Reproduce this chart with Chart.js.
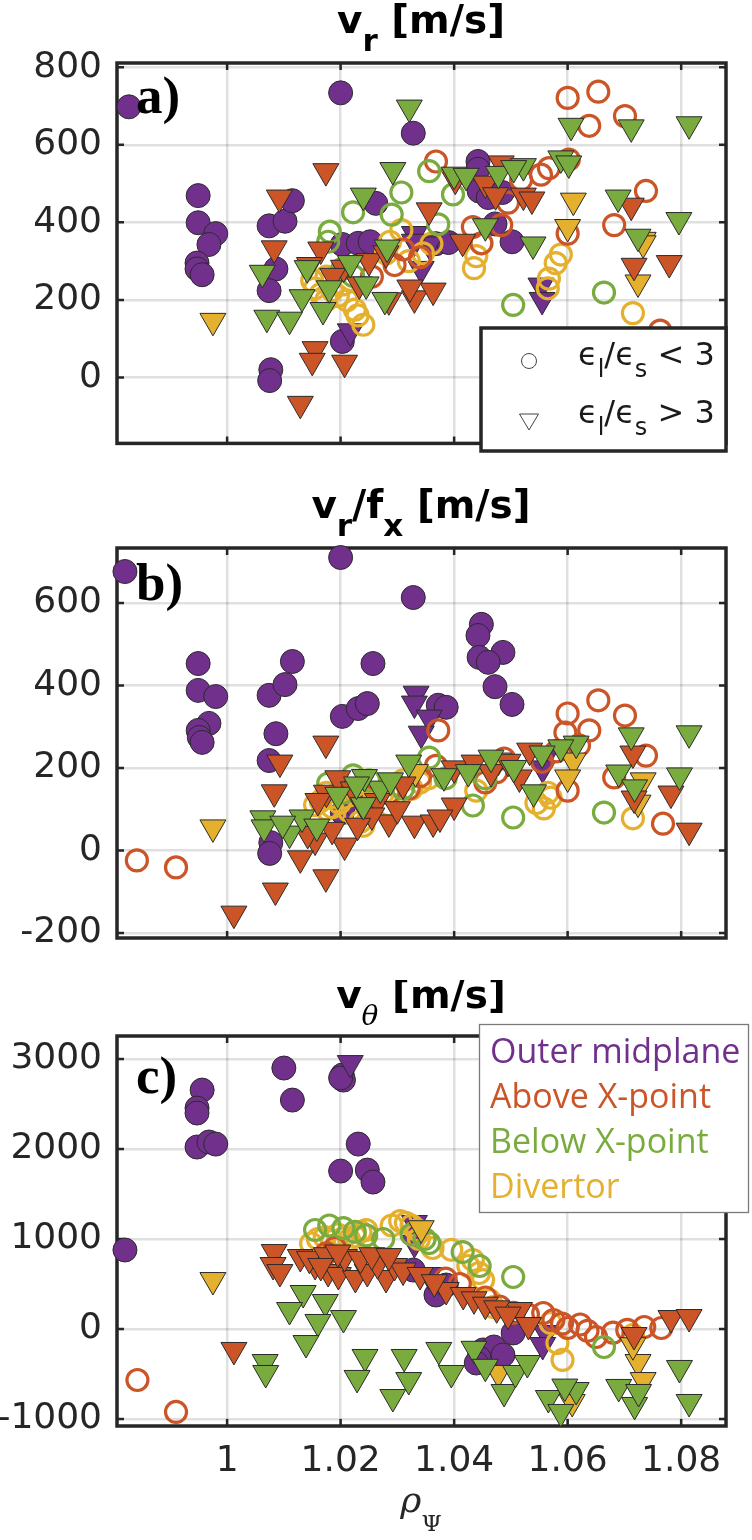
<!DOCTYPE html>
<html>
<head>
<meta charset="utf-8">
<script src="https://cdn.jsdelivr.net/npm/chart.js@4.4.0/dist/chart.umd.min.js"></script>
<style>
body { margin: 0; background: #fff; width: 752px; height: 1540px; position: relative; overflow: hidden; }
canvas { position: absolute; left: 0; }
</style>
</head>
<body>
<canvas id="ca" width="752" height="480" style="top:0px"></canvas>
<canvas id="cb" width="752" height="500" style="top:480px"></canvas>
<canvas id="cc" width="752" height="560" style="top:980px"></canvas>
<script>
// tick labels
const rhoTicks = [1, 1.02, 1.04, 1.06, 1.08];
const vrTicks = [0, 200, 400, 600, 800];
const vrfTicks = [-200, 0, 200, 400, 600];
const vthTicks = [-1000, 0, 1000, 2000, 3000];
const regions = ['Outer midplane', 'Above X-point', 'Below X-point', 'Divertor'];

// a) v_r  -- [rho, value]
const aMidCirc = [[0.9827,698],[1.020,734],[0.9949,469],[0.9949,399],[0.998,371],[0.9968,343],[0.9947,295],[0.9947,280],[0.9956,265],
  [1.0074,391],[1.0102,403],[1.0115,456],[1.0086,280],[1.0074,224],[1.0077,20],[1.0075,-8],[1.0203,93],[1.0203,343],[1.0231,346],
  [1.0252,350],[1.0262,449],[1.0328,630],[1.0442,557],[1.0442,537],[1.0444,481],[1.046,464],[1.0485,477],[1.0472,396],[1.0502,350],
  [1.0368,345],[1.039,348]];
const aMidTri = [[1.0217,119],[1.033,370],[1.0356,343],[1.033,350],[1.0342,280],[1.0553,237],[1.0555,200]];
const aAbvCirc = [[1.060,721],[1.0654,737],[1.0638,649],[1.0701,674],[1.0368,557],[1.0738,481],[1.0682,393],[1.060,371],[1.0602,562],
  [1.0567,540],[1.0553,523],[1.0518,510],[1.0763,121],[1.0495,451],[1.0433,388],[1.0483,393],[1.0448,346],[1.031,330],[1.034,310],
  [1.0295,290],[1.0255,260]];
const aAbvTri = [[1.0174,532],[1.0092,464],[1.0083,333],[1.0207,38],[1.0155,73],[1.0150,43],[1.0129,-68],[1.0402,510],[1.0483,552],
  [1.0356,431],[1.0522,469],[1.0537,459],[1.0712,443],[1.0779,295],[1.0717,288],[1.0285,199],[1.033,204],[1.0363,224],[1.0322,232],
  [1.025,300],[1.0233,240],[1.0205,283],[1.0165,330],[1.028,320],[1.0415,350],[1.0455,500],[1.0473,470],[1.0145,290],[1.0186,262]];
const aBelCirc = [[1.0356,532],[1.0307,477],[1.0398,472],[1.0222,426],[1.0181,376],[1.0504,187],[1.0664,219],[1.0178,350],[1.0222,262],
  [1.0203,280],[1.029,420],[1.0372,395]];
const aBelTri = [[1.0321,696],[1.0292,535],[1.0606,649],[1.0712,645],[1.0814,653],[1.0588,565],[1.0602,552],[1.0522,545],[1.0689,464],
  [1.0796,406],[1.0724,363],[1.0539,343],[1.024,469],[1.007,154],[1.011,149],[1.0062,270],[1.0132,207],[1.0169,174],[1.0141,282],
  [1.0217,295],[1.0282,335],[1.040,523],[1.0421,520],[1.0455,390],[1.0478,525],[1.0505,540],[1.0278,200],[1.0245,240],[1.018,230]];
const aDivCirc = [[1.0155,230],[1.0165,215],[1.0175,200],[1.0185,225],[1.0195,210],[1.0205,240],[1.0211,199],[1.0225,175],[1.024,136],
  [1.023,160],[1.015,250],[1.0175,260],[1.028,320],[1.0307,380],[1.0287,350],[1.032,300],[1.0345,320],[1.036,345],[1.0435,282],
  [1.0439,313],[1.0448,346],[1.0588,317],[1.0579,295],[1.0567,255],[1.0715,166],[1.0565,230]];
const aDivTri = [[0.9975,146],[1.061,456],[1.060,388],[1.0733,355],[1.0733,346],[1.0724,245]];

// b) v_r/f_x
const bMidCirc = [[0.982,676],[1.020,710],[0.9949,453],[0.9949,388],[0.998,373],[0.9968,308],[0.9949,291],[0.9951,274],[0.9956,262],
  [1.0074,376],[1.0102,402],[1.0115,458],[1.0086,283],[1.0074,218],[1.0077,19],[1.0075,-7],[1.0203,92],[1.0203,325],[1.0231,344],
  [1.0247,356],[1.0257,453],[1.0328,613],[1.0448,548],[1.0442,521],[1.0486,480],[1.0444,468],[1.046,456],[1.0472,397],[1.0502,354],
  [1.0372,352],[1.0386,347]];
const bMidTri = [[1.0333,380],[1.033,356],[1.0356,322],[1.0342,283],[1.0217,116],[1.0562,230],[1.0556,199]];
const bAbvCirc = [[0.9841,-24],[0.991,-41],[1.0654,364],[1.060,332],[1.0701,327],[1.0638,291],[1.0596,286],[1.0682,177],[1.0738,230],
  [1.0768,65],[1.060,145],[1.0488,223],[1.0475,190],[1.0455,165],[1.058,240],[1.0555,215],[1.062,255],[1.0372,291],[1.0368,205],
  [1.034,180],[1.032,150],[1.0285,140],[1.0245,130]];
const bAbvTri = [[1.0174,259],[1.0093,213],[1.0083,141],[1.0207,12],[1.0155,24],[1.0129,-19],[1.0174,-65],[1.0085,-97],[1.0012,-153],
  [1.0285,68],[1.033,65],[1.0363,68],[1.040,109],[1.040,199],[1.0435,213],[1.0515,177],[1.0533,242],[1.0715,235],[1.0782,138],
  [1.0814,48],[1.0717,126],[1.0175,140],[1.0195,175],[1.0222,148],[1.0245,95],[1.0265,120],[1.030,100],[1.031,160],[1.0255,85],
  [1.016,120],[1.0465,190],[1.0495,215],[1.0375,80],[1.0185,50],[1.023,60],[1.0142,40]];
const bBelCirc = [[1.0178,162],[1.0222,182],[1.025,170],[1.0504,80],[1.0664,92],[1.0356,225],[1.0433,109],[1.0295,130],[1.031,150],
  [1.0205,140],[1.0385,175],[1.0455,175]];
const bBelTri = [[1.0063,78],[1.0065,56],[1.011,41],[1.0132,80],[1.032,213],[1.054,141],[1.0615,259],[1.0712,279],[1.069,189],
  [1.0797,182],[1.0814,284],[1.0718,153],[1.0588,250],[1.0098,65],[1.0158,58],[1.0195,135],[1.024,110],[1.027,150],[1.0288,170],
  [1.0382,180],[1.0425,190],[1.0465,225],[1.0505,200],[1.0555,235],[1.0242,178],[1.0228,160]];
const bDivCirc = [[1.0155,110],[1.0165,120],[1.0175,100],[1.0185,105],[1.0198,115],[1.0205,128],[1.0215,95],[1.0225,85],[1.0235,70],
  [1.024,60],[1.019,130],[1.0175,140],[1.0245,115],[1.026,130],[1.0275,140],[1.0295,160],[1.031,170],[1.0325,150],[1.034,165],
  [1.0355,175],[1.0285,110],[1.0439,145],[1.057,128],[1.0558,102],[1.0545,115],[1.0565,140],[1.0715,78]];
const bDivTri = [[0.9975,56],[1.0478,218],[1.061,218],[1.060,177],[1.0733,170],[1.0724,116],[1.0332,190]];

// c) v_theta
const cMidCirc = [[0.982,878],[0.9956,2655],[0.9947,2455],[0.9947,2400],[0.9947,2022],[0.9968,2078],[0.998,2055],[1.010,2900],
  [1.0115,2544],[1.0203,2822],[1.0205,2766],[1.0231,2055],[1.020,1755],[1.0247,1766],[1.0257,1633],[1.0328,655],[1.0368,378],
  [1.0386,489],[1.0504,-44],[1.0451,-233],[1.047,-200],[1.0486,-289],[1.0444,-322],[1.0439,-378],[1.020,2790]];
const cMidTri = [[1.0217,2955],[1.033,1178],[1.0335,1066],[1.033,955],[1.0356,600],[1.0562,-44],[1.0556,-178]];
const cAbvCirc = [[0.9842,-567],[0.991,-922],[1.0455,350],[1.048,250],[1.0505,180],[1.053,160],[1.0557,178],[1.0575,100],[1.060,11],
  [1.0622,50],[1.065,-89],[1.068,-40],[1.0705,-10],[1.0735,22],[1.0765,11],[1.059,60],[1.0635,-20],[1.041,500],[1.0385,560],
  [1.0175,840],[1.019,900]];
const cAbvTri = [[1.0012,-233],[1.0083,855],[1.0081,711],[1.0093,633],[1.0129,800],[1.0155,711],[1.0178,633],[1.0196,600],[1.0226,567],
  [1.0207,800],[1.0247,633],[1.028,567],[1.0386,433],[1.0416,378],[1.0435,330],[1.0515,211],[1.0531,44],[1.0717,-67],[1.0782,122],
  [1.0814,133],[1.0145,780],[1.0175,820],[1.0235,780],[1.0265,720],[1.0295,700],[1.031,650],[1.034,600],[1.0365,520],[1.0455,270],
  [1.0475,230],[1.0495,160],[1.0195,850],[1.0165,700],[1.0255,820],[1.0285,810]];
const cBelCirc = [[1.0155,1100],[1.018,1150],[1.0205,1120],[1.0225,1080],[1.0245,1040],[1.0275,1000],[1.0504,578],[1.0664,-200],
  [1.0415,855],[1.0356,955],[1.0348,1000],[1.0325,1050],[1.0445,700]];
const cBelTri = [[1.0134,400],[1.0173,300],[1.011,211],[1.016,78],[1.0205,122],[1.0139,-156],[1.0067,-367],[1.0068,-489],[1.0243,-311],
  [1.0229,-544],[1.0312,-311],[1.032,-567],[1.0292,-756],[1.0373,-233],[1.0395,-489],[1.0488,-700],[1.0508,-489],[1.0529,-378],
  [1.0566,-767],[1.0588,-922],[1.0615,-678],[1.069,-644],[1.0718,-844],[1.0797,-433],[1.0814,-811],[1.0435,-220],[1.0455,-420],
  [1.0595,-640],[1.0725,-700]];
const cDivCirc = [[1.0148,950],[1.016,1000],[1.0172,1020],[1.0185,980],[1.0195,1050],[1.0205,1010],[1.0215,990],[1.0225,1030],
  [1.0235,1080],[1.0245,1100],[1.029,1150],[1.0305,1200],[1.0315,1180],[1.0325,1150],[1.0335,1100],[1.0338,1000],[1.0362,900],
  [1.0433,767],[1.0444,622],[1.0451,544],[1.0462,322],[1.0469,244],[1.057,67],[1.0582,-156],[1.0591,-344],[1.0715,-67],[1.0395,880],
  [1.0425,700]];
const cDivTri = [[0.9975,544],[1.060,-678],[1.0608,-811],[1.0724,-367],[1.0733,-567],[1.0478,-489],[1.0342,1120],[1.0715,-180]];

const colors = ['#70308C', '#CC5528', '#7AAB3E', '#E4B02E'];
const ink = '#262626';
const tickFont = 'DejaVu Sans';

function pts(arr) { return arr.map(p => ({ x: p[0], y: p[1] })); }

function series(arr, color, tri, ring) {
  return {
    data: pts(arr),
    pointStyle: tri ? 'triangle' : 'circle',
    pointRotation: tri ? 180 : 0,
    pointRadius: tri ? 15 : (ring ? 10.5 : 12),
    pointHoverRadius: tri ? 15 : 12,
    pointBackgroundColor: ring ? 'rgba(0,0,0,0)' : color,
    pointBorderColor: ring ? color : '#2b2b2b',
    pointBorderWidth: ring ? 3.2 : 1,
    showLine: false,
    clip: false
  };
}

function richText(ctx, parts, cx, y) {
  let w = 0;
  parts.forEach(p => { ctx.font = p.font; p.w = ctx.measureText(p.t).width; w += p.w; });
  let x = cx - w / 2;
  parts.forEach(p => { ctx.font = p.font; ctx.fillText(p.t, x, y + (p.dy || 0)); x += p.w; });
}

function makePanel(id, sets, o) {
  const frame = {
    id: 'frame',
    beforeDatasetsDraw(chart) {
      const c = chart.ctx, a = chart.chartArea;
      c.save();
      c.strokeStyle = ink;
      c.lineWidth = 2.5;
      c.beginPath();
      chart.scales.x.ticks.forEach(t => {
        const px = chart.scales.x.getPixelForValue(t.value);
        c.moveTo(px, a.bottom); c.lineTo(px, a.bottom - 7);
        c.moveTo(px, a.top); c.lineTo(px, a.top + 7);
      });
      chart.scales.y.ticks.forEach(t => {
        const py = chart.scales.y.getPixelForValue(t.value);
        c.moveTo(a.left, py); c.lineTo(a.left + 7, py);
        c.moveTo(a.right, py); c.lineTo(a.right - 7, py);
      });
      c.stroke();
      c.lineWidth = 3.5;
      c.strokeRect(a.left, a.top, a.right - a.left, a.bottom - a.top);
      c.restore();
    },
    afterDraw(chart) {
      const c = chart.ctx;
      c.save();
      c.fillStyle = '#000';
      c.textBaseline = 'alphabetic';
      richText(c, o.title, 421, o.titleY);
      c.font = 'bold 53px "Liberation Serif"';
      c.fillText(o.tag, 136, o.tagY);
      if (o.extra) o.extra(c, chart);
      c.restore();
    }
  };
  return new Chart(document.getElementById(id), {
    type: 'scatter',
    data: { datasets: sets },
    options: {
      responsive: false,
      animation: false,
      devicePixelRatio: 1,
      layout: { padding: { left: 0, right: 26, top: o.padTop, bottom: o.padBottom } },
      plugins: { legend: { display: false }, tooltip: { enabled: false } },
      scales: {
        x: {
          type: 'linear', min: 0.9806, max: 1.0879,
          afterBuildTicks: s => { s.ticks = rhoTicks.map(v => ({ value: v })); },
          afterFit: s => { s.height = o.xHeight; },
          grid: { color: 'rgba(0,0,0,0.12)', lineWidth: 2.5, drawTicks: false },
          border: { display: false },
          ticks: { display: o.xHeight > 0, color: ink, padding: 14, font: { family: tickFont, size: 36 },
            callback: v => String(+v.toFixed(2)) }
        },
        y: {
          type: 'linear', min: o.yMin, max: o.yMax,
          afterBuildTicks: s => { s.ticks = o.yTicks.map(v => ({ value: v })); },
          afterFit: s => { s.width = 117; },
          grid: { color: 'rgba(0,0,0,0.12)', lineWidth: 2.5, drawTicks: false },
          border: { display: false },
          ticks: { color: ink, padding: 15, font: { family: tickFont, size: 36 }, callback: v => String(v) }
        }
      }
    },
    plugins: [frame]
  });
}

function groupSets(g) {
  // draw order: triangles and rings first, purple on top
  return [
    series(g.belTri, colors[2], true, false),
    series(g.abvTri, colors[1], true, false),
    series(g.divTri, colors[3], true, false),
    series(g.belCirc, colors[2], false, true),
    series(g.abvCirc, colors[1], false, true),
    series(g.divCirc, colors[3], false, true),
    series(g.midTri, colors[0], true, false),
    series(g.midCirc, colors[0], false, false)
  ];
}

const bold = s => 'bold ' + s + 'px "DejaVu Sans"';

makePanel('ca', groupSets({ midCirc: aMidCirc, midTri: aMidTri, abvCirc: aAbvCirc, abvTri: aAbvTri,
  belCirc: aBelCirc, belTri: aBelTri, divCirc: aDivCirc, divTri: aDivTri }), {
  padTop: 63, padBottom: 29, xHeight: 0, yMin: -170, yMax: 811, yTicks: vrTicks,
  title: [{ t: 'v', font: bold(39) }, { t: 'r', font: bold(31), dy: 18 }, { t: ' [m/s]', font: bold(39) }],
  titleY: 33, tag: 'a)', tagY: 113,
  extra: (c) => {
    // shape legend
    c.fillStyle = '#fff';
    c.fillRect(481, 328, 245, 123);
    c.strokeStyle = ink; c.lineWidth = 3.5;
    c.strokeRect(481, 328, 245, 123);
    c.strokeStyle = '#444'; c.lineWidth = 1;
    c.beginPath(); c.arc(529, 361, 7.5, 0, Math.PI * 2); c.stroke();
    c.beginPath(); c.moveTo(519.5, 414); c.lineTo(538.5, 414); c.lineTo(529, 430); c.closePath(); c.stroke();
    c.fillStyle = '#1a1a1a';
    const eps = '\u03F5';
    const f = '32px "DejaVu Sans"', fs = '24px "DejaVu Sans"';
    [[365, ' < 3'], [423, ' > 3']].forEach(r => {
      let x = 578;
      [[eps, f, 0], ['l', fs, 12], ['/', f, 0], [eps, f, 0], ['s', fs, 12], [r[1], f, 0]].forEach(p => {
        c.font = p[1]; c.fillText(p[0], x, r[0] + p[2]); x += c.measureText(p[0]).width;
      });
    });
  }
});

makePanel('cb', groupSets({ midCirc: bMidCirc, midTri: bMidTri, abvCirc: bAbvCirc, abvTri: bAbvTri,
  belCirc: bBelCirc, belTri: bBelTri, divCirc: bDivCirc, divTri: bDivTri }), {
  padTop: 68, padBottom: 42, xHeight: 0, yMin: -212, yMax: 733, yTicks: vrfTicks,
  title: [{ t: 'v', font: bold(39) }, { t: 'r', font: bold(31), dy: 18 }, { t: '/f', font: bold(39) },
    { t: 'x', font: bold(31), dy: 18 }, { t: ' [m/s]', font: bold(39) }],
  titleY: 38, tag: 'b)', tagY: 120
});

makePanel('cc', groupSets({ midCirc: cMidCirc, midTri: cMidTri, abvCirc: cAbvCirc, abvTri: cAbvTri,
  belCirc: cBelCirc, belTri: cBelTri, divCirc: cDivCirc, divTri: cDivTri }), {
  padTop: 56, padBottom: 0, xHeight: 114, yMin: -1078, yMax: 3256, yTicks: vthTicks,
  title: [{ t: 'v', font: bold(39) }, { t: '\u03B8', font: 'italic 28px "DejaVu Serif"', dy: 17 }, { t: ' [m/s]', font: bold(39) }],
  titleY: 28, tag: 'c)', tagY: 113,
  extra: (c) => {
    // region legend
    c.fillStyle = '#fff';
    c.fillRect(479, 44, 270, 189);
    c.strokeStyle = '#7a7a7a'; c.lineWidth = 1.3;
    c.strokeRect(479.5, 44.5, 269, 188);
    c.font = '34px "Open Sans"';
    regions.forEach((r, i) => {
      c.fillStyle = colors[i];
      c.fillText(r, 490, 83 + i * 45);
    });
    // x axis label
    c.fillStyle = '#262626';
    richText(c, [{ t: '\u03C1', font: 'italic 36px "DejaVu Serif"' }, { t: '\u03A8', font: '23px "DejaVu Serif"', dy: 19 }], 421, 532);
  }
});
</script>
</body>
</html>
